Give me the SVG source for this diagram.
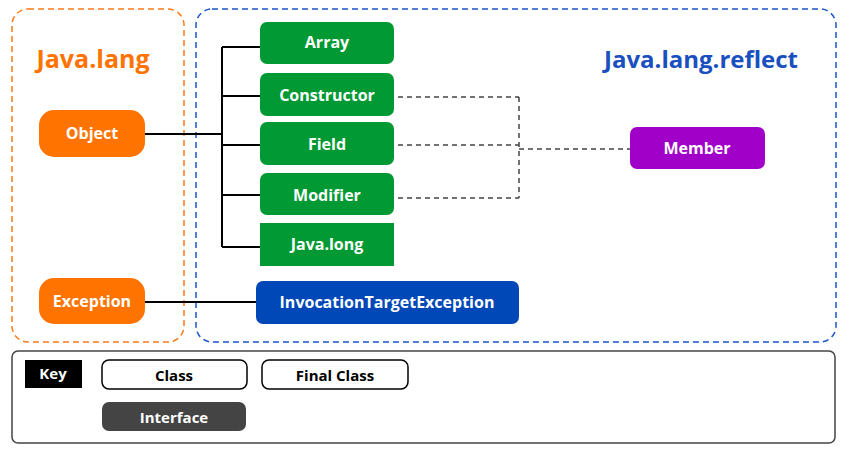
<svg xmlns="http://www.w3.org/2000/svg" width="866" height="451" viewBox="0 0 866 451">
<style>
text{font-family:"Open Sans","Liberation Sans",sans-serif;font-weight:700;text-anchor:middle;dominant-baseline:central}
.g{fill:#009933}.w{fill:#fff;font-size:16px}
.ln{stroke:#000;stroke-width:2;fill:none}
.dl{stroke:#444;stroke-width:1.5;fill:none;stroke-dasharray:5 4}
</style>
<rect width="866" height="451" fill="#fff"/>
<g id="java-lang"><rect x="12" y="9" width="172" height="333" rx="16" fill="none" stroke="#FF7A1A" stroke-width="1.5" stroke-dasharray="6 4"/>
<text x="93" y="58" fill="#FF7300" font-size="25">Java.lang</text></g>
<g id="java-lang-reflect"><rect x="196" y="9" width="640" height="333" rx="16" fill="none" stroke="#1A56C8" stroke-width="1.5" stroke-dasharray="6 4"/>
<text x="701" y="58" fill="#1A4FC0" font-size="24" font-weight="500">Java.lang.reflect</text></g>
<g id="connectors">
<path class="ln" d="M145 134H222M222 47V247M222 47H260M222 96H260M222 145H260M222 195H260M222 247H260M145 302H256"/>
<path class="dl" d="M398 97H519M398 145H519M398 198H519M519 97V198M519 149H630"/>
</g>
<g id="object"><rect x="39" y="110" width="106" height="47" rx="15" fill="#FF7300"/><text class="w" x="92" y="133">Object</text></g>
<g id="exception"><rect x="39" y="278" width="106" height="46" rx="15" fill="#FF7300"/><text class="w" x="92" y="301">Exception</text></g>
<g id="array"><rect class="g" x="260" y="22" width="134" height="42" rx="7"/><text class="w" x="327" y="42">Array</text></g>
<g id="constructor"><rect class="g" x="260" y="73" width="134" height="43" rx="7"/><text class="w" x="327" y="95">Constructor</text></g>
<g id="field"><rect class="g" x="260" y="122" width="134" height="43" rx="7"/><text class="w" x="327" y="144">Field</text></g>
<g id="modifier"><rect class="g" x="260" y="173" width="134" height="42" rx="7"/><text class="w" x="327" y="195">Modifier</text></g>
<g id="java-long"><rect class="g" x="260" y="223" width="134" height="43"/><text class="w" x="327" y="244">Java.long</text></g>
<g id="ite"><rect x="256" y="281" width="263" height="43" rx="7" fill="#0047B8"/><text class="w" x="387" y="302">InvocationTargetException</text></g>
<g id="member"><rect x="630" y="127" width="135" height="42" rx="7" fill="#A100C8"/><text class="w" x="697" y="148">Member</text></g>
<g id="key"><rect x="12" y="351" width="823" height="92" rx="6" fill="none" stroke="#444" stroke-width="1.5"/>
<rect x="25" y="360" width="57" height="28" fill="#000"/><text x="53" y="373" fill="#fff" font-size="15" font-weight="600">Key</text>
<rect x="102" y="360" width="145" height="29" rx="7" fill="#fff" stroke="#000" stroke-width="1.5"/><text x="174" y="375" font-size="15" font-weight="600">Class</text>
<rect x="262" y="360" width="146" height="29" rx="7" fill="#fff" stroke="#000" stroke-width="1.5"/><text x="335" y="375" font-size="15" font-weight="600">Final Class</text>
<rect x="102" y="402" width="144" height="29" rx="7" fill="#444"/><text x="174" y="417" fill="#fff" font-size="15" font-weight="600">Interface</text></g>
</svg>
